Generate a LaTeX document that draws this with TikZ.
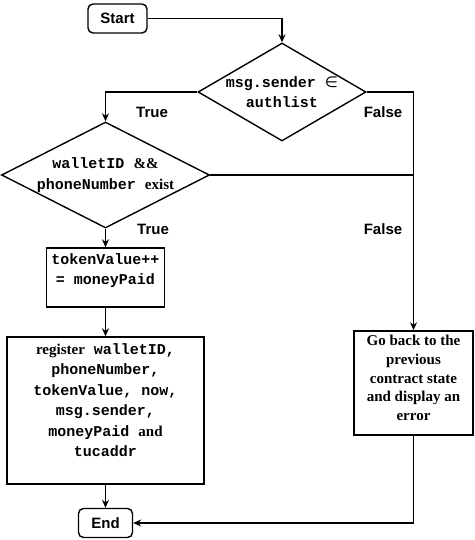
\documentclass[tikz,border=0pt]{standalone}
\usepackage{fontspec}
\setmainfont{Liberation Serif}
\setsansfont{Liberation Sans}
\setmonofont{Liberation Mono}
\newfontfamily\djv{DejaVu Sans}
\usetikzlibrary{shapes.geometric,arrows.meta}
\newcommand{\cd}[1]{{\ttfamily\bfseries #1}}
\begin{document}
\begin{tikzpicture}[x=1pt,y=-1pt,line width=1.4pt,
  term/.style={draw,rounded corners=5pt,inner sep=0,font=\sffamily\bfseries\fontsize{15}{18}\selectfont},
  dia/.style={draw,diamond,inner sep=0},
  boxx/.style={draw,rectangle,inner sep=0},
  lbl/.style={font=\sffamily\bfseries\fontsize{15}{18}\selectfont},
  codet/.style={align=center,font=\ttfamily\bfseries\fontsize{15}{20.5}\selectfont},
  arr/.style={-{Stealth[length=8pt,width=7pt]}}]
\useasboundingbox (0,0) rectangle (474,540);
\node[term,minimum width=59,minimum height=29] (start) at (117.5,18.5) {Start};
\node[dia,minimum width=168,minimum height=98,
  label={[codet]center:{msg.sender {\djv\mdseries ∈}\\authlist}}] (d1) at (282,92) {};
\node[dia,minimum width=208,minimum height=106,
  label={[codet]center:{walletID {\rmfamily\bfseries\&\&}\\phoneNumber {\rmfamily\bfseries exist}}}] (d2) at (105.5,175) {};
\node[boxx,minimum width=118,minimum height=59,
  label={[codet,anchor=north,yshift=-2pt]north:{tokenValue++\\= moneyPaid}}] (tok) at (105.5,277.5) {};
\node[boxx,minimum width=197,minimum height=147,
  label={[codet,anchor=north,yshift=-3pt]north:{{\rmfamily\bfseries register} walletID,\\phoneNumber,\\tokenValue, now,\\msg.sender,\\moneyPaid {\rmfamily\bfseries and}\\tucaddr}}] (reg) at (105.5,410.5) {};
\node[boxx,minimum width=119,minimum height=104,
  label={[align=center,anchor=north,yshift=-1pt,font=\rmfamily\bfseries\fontsize{15}{18.7}\selectfont]north:{Go back to the\\previous\\contract state\\and display an\\error}}] (go) at (413.5,383) {};
\node[term,minimum width=54,minimum height=29] (end) at (105.5,523) {End};
\node[lbl] (t1) at (152,112) {True};
\node[lbl] (f1) at (383,112) {False};
\node[lbl] (t2) at (153,229) {True};
\node[lbl] (f2) at (383,229) {False};
\draw[arr] (start.east) -| (d1.north);
\draw[arr] (d1.west) -| (d2.north);
\draw[arr] (d1.east) -| (go.north);
\draw (d2.east) -- (d2.east -| go.north);
\draw[arr] (d2.south) -- (tok.north);
\draw[arr] (tok.south) -- (reg.north);
\draw[arr] (reg.south) -- (end.north);
\draw[arr] (go.south) |- (end.east);
\end{tikzpicture}
\end{document}
